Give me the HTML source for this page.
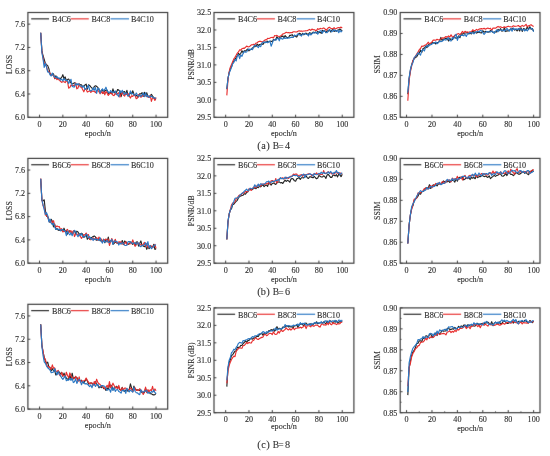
<!DOCTYPE html><html><head><meta charset="utf-8"><style>html,body{margin:0;padding:0;background:#fff}svg{display:block}text{stroke:#303030;stroke-width:0.12px;fill:#303030}.cap{stroke-width:0.1px}</style></head><body>
<svg width="550" height="456" viewBox="0 0 550 456" font-family='"Liberation Serif", "Times New Roman", serif'>
<defs><filter id="bl" x="0" y="0" width="550" height="456" filterUnits="userSpaceOnUse" color-interpolation-filters="sRGB"><feConvolveMatrix order="3" kernelMatrix="0.0049 0.0602 0.0049 0.0602 0.7396 0.0602 0.0049 0.0602 0.0049" edgeMode="duplicate"/></filter>
<clipPath id="c00"><rect x="27.9" y="12.5" width="139.80" height="104.8"/></clipPath><clipPath id="c01"><rect x="214.0" y="12.5" width="139.90" height="104.8"/></clipPath><clipPath id="c02"><rect x="400.2" y="12.5" width="139.80" height="104.8"/></clipPath><clipPath id="c10"><rect x="27.9" y="158.4" width="139.80" height="104.8"/></clipPath><clipPath id="c11"><rect x="214.0" y="158.4" width="139.90" height="104.8"/></clipPath><clipPath id="c12"><rect x="400.2" y="158.4" width="139.80" height="104.8"/></clipPath><clipPath id="c20"><rect x="27.9" y="304.3" width="139.80" height="104.8"/></clipPath><clipPath id="c21"><rect x="214.0" y="307.9" width="139.90" height="104.8"/></clipPath><clipPath id="c22"><rect x="400.2" y="307.9" width="139.80" height="104.8"/></clipPath></defs>
<g filter="url(#bl)"><rect width="550" height="456" fill="#fff"/>
<path d="M39.55,117.30v-2.6 M62.85,117.30v-2.6 M86.15,117.30v-2.6 M109.45,117.30v-2.6 M132.75,117.30v-2.6 M156.05,117.30v-2.6 M27.90,117.30h2.4 M27.90,94.01h2.4 M27.90,70.72h2.4 M27.90,47.43h2.4 M27.90,24.14h2.4" stroke="#404040" stroke-width="1" fill="none"/>
<rect x="27.9" y="12.5" width="139.80" height="104.8" fill="none" stroke="#404040" stroke-width="1.2"/>
<line x1="31.20" y1="18.85" x2="49.00" y2="18.85" stroke="#262626" stroke-width="1.15"/>
<line x1="70.60" y1="18.85" x2="88.80" y2="18.85" stroke="#e83030" stroke-width="1.15"/>
<line x1="110.50" y1="18.85" x2="129.00" y2="18.85" stroke="#2b78c4" stroke-width="1.15"/>
<path d="M225.66,117.30v-2.6 M248.97,117.30v-2.6 M272.29,117.30v-2.6 M295.61,117.30v-2.6 M318.92,117.30v-2.6 M342.24,117.30v-2.6 M214.00,117.30h2.4 M214.00,99.83h2.4 M214.00,82.37h2.4 M214.00,64.90h2.4 M214.00,47.43h2.4 M214.00,29.97h2.4 M214.00,12.50h2.4" stroke="#404040" stroke-width="1" fill="none"/>
<rect x="214.0" y="12.5" width="139.90" height="104.8" fill="none" stroke="#404040" stroke-width="1.2"/>
<line x1="217.30" y1="18.85" x2="235.10" y2="18.85" stroke="#262626" stroke-width="1.15"/>
<line x1="256.70" y1="18.85" x2="274.90" y2="18.85" stroke="#e83030" stroke-width="1.15"/>
<line x1="296.60" y1="18.85" x2="315.10" y2="18.85" stroke="#2b78c4" stroke-width="1.15"/>
<path d="M406.55,117.30v-2.6 M431.97,117.30v-2.6 M457.39,117.30v-2.6 M482.81,117.30v-2.6 M508.23,117.30v-2.6 M533.65,117.30v-2.6 M400.20,117.30h2.4 M400.20,96.34h2.4 M400.20,75.38h2.4 M400.20,54.42h2.4 M400.20,33.46h2.4 M400.20,12.50h2.4" stroke="#404040" stroke-width="1" fill="none"/>
<rect x="400.2" y="12.5" width="139.80" height="104.8" fill="none" stroke="#404040" stroke-width="1.2"/>
<line x1="403.50" y1="18.85" x2="421.30" y2="18.85" stroke="#262626" stroke-width="1.15"/>
<line x1="442.90" y1="18.85" x2="461.10" y2="18.85" stroke="#e83030" stroke-width="1.15"/>
<line x1="482.80" y1="18.85" x2="501.30" y2="18.85" stroke="#2b78c4" stroke-width="1.15"/>
<path d="M39.55,263.20v-2.6 M62.85,263.20v-2.6 M86.15,263.20v-2.6 M109.45,263.20v-2.6 M132.75,263.20v-2.6 M156.05,263.20v-2.6 M27.90,263.20h2.4 M27.90,239.91h2.4 M27.90,216.62h2.4 M27.90,193.33h2.4 M27.90,170.04h2.4" stroke="#404040" stroke-width="1" fill="none"/>
<rect x="27.9" y="158.4" width="139.80" height="104.8" fill="none" stroke="#404040" stroke-width="1.2"/>
<line x1="31.20" y1="164.75" x2="49.00" y2="164.75" stroke="#262626" stroke-width="1.15"/>
<line x1="70.60" y1="164.75" x2="88.80" y2="164.75" stroke="#e83030" stroke-width="1.15"/>
<line x1="110.50" y1="164.75" x2="129.00" y2="164.75" stroke="#2b78c4" stroke-width="1.15"/>
<path d="M225.66,263.20v-2.6 M248.97,263.20v-2.6 M272.29,263.20v-2.6 M295.61,263.20v-2.6 M318.92,263.20v-2.6 M342.24,263.20v-2.6 M214.00,263.20h2.4 M214.00,245.73h2.4 M214.00,228.27h2.4 M214.00,210.80h2.4 M214.00,193.33h2.4 M214.00,175.87h2.4 M214.00,158.40h2.4" stroke="#404040" stroke-width="1" fill="none"/>
<rect x="214.0" y="158.4" width="139.90" height="104.8" fill="none" stroke="#404040" stroke-width="1.2"/>
<line x1="217.30" y1="164.75" x2="235.10" y2="164.75" stroke="#262626" stroke-width="1.15"/>
<line x1="256.70" y1="164.75" x2="274.90" y2="164.75" stroke="#e83030" stroke-width="1.15"/>
<line x1="296.60" y1="164.75" x2="315.10" y2="164.75" stroke="#2b78c4" stroke-width="1.15"/>
<path d="M406.55,263.20v-2.6 M431.97,263.20v-2.6 M457.39,263.20v-2.6 M482.81,263.20v-2.6 M508.23,263.20v-2.6 M533.65,263.20v-2.6 M400.20,263.20h2.4 M400.20,242.24h2.4 M400.20,221.28h2.4 M400.20,200.32h2.4 M400.20,179.36h2.4 M400.20,158.40h2.4" stroke="#404040" stroke-width="1" fill="none"/>
<rect x="400.2" y="158.4" width="139.80" height="104.8" fill="none" stroke="#404040" stroke-width="1.2"/>
<line x1="403.50" y1="164.75" x2="421.30" y2="164.75" stroke="#262626" stroke-width="1.15"/>
<line x1="442.90" y1="164.75" x2="461.10" y2="164.75" stroke="#e83030" stroke-width="1.15"/>
<line x1="482.80" y1="164.75" x2="501.30" y2="164.75" stroke="#2b78c4" stroke-width="1.15"/>
<path d="M39.55,409.10v-2.6 M62.85,409.10v-2.6 M86.15,409.10v-2.6 M109.45,409.10v-2.6 M132.75,409.10v-2.6 M156.05,409.10v-2.6 M27.90,409.10h2.4 M27.90,385.81h2.4 M27.90,362.52h2.4 M27.90,339.23h2.4 M27.90,315.94h2.4" stroke="#404040" stroke-width="1" fill="none"/>
<rect x="27.9" y="304.3" width="139.80" height="104.8" fill="none" stroke="#404040" stroke-width="1.2"/>
<line x1="31.20" y1="310.65" x2="49.00" y2="310.65" stroke="#262626" stroke-width="1.15"/>
<line x1="70.60" y1="310.65" x2="88.80" y2="310.65" stroke="#e83030" stroke-width="1.15"/>
<line x1="110.50" y1="310.65" x2="129.00" y2="310.65" stroke="#2b78c4" stroke-width="1.15"/>
<path d="M225.66,412.70v-2.6 M248.97,412.70v-2.6 M272.29,412.70v-2.6 M295.61,412.70v-2.6 M318.92,412.70v-2.6 M342.24,412.70v-2.6 M214.00,412.70h2.4 M214.00,395.23h2.4 M214.00,377.77h2.4 M214.00,360.30h2.4 M214.00,342.83h2.4 M214.00,325.37h2.4 M214.00,307.90h2.4" stroke="#404040" stroke-width="1" fill="none"/>
<rect x="214.0" y="307.9" width="139.90" height="104.8" fill="none" stroke="#404040" stroke-width="1.2"/>
<line x1="217.30" y1="314.25" x2="235.10" y2="314.25" stroke="#262626" stroke-width="1.15"/>
<line x1="256.70" y1="314.25" x2="274.90" y2="314.25" stroke="#e83030" stroke-width="1.15"/>
<line x1="296.60" y1="314.25" x2="315.10" y2="314.25" stroke="#2b78c4" stroke-width="1.15"/>
<path d="M406.55,412.70v-2.6 M431.97,412.70v-2.6 M457.39,412.70v-2.6 M482.81,412.70v-2.6 M508.23,412.70v-2.6 M533.65,412.70v-2.6 M400.20,412.70h2.4 M400.20,391.74h2.4 M400.20,370.78h2.4 M400.20,349.82h2.4 M400.20,328.86h2.4 M400.20,307.90h2.4 M419.26,412.70v-1.3 M444.68,412.70v-1.3 M470.10,412.70v-1.3 M495.52,412.70v-1.3 M520.94,412.70v-1.3 M400.20,402.22h1.3 M400.20,381.26h1.3 M400.20,360.30h1.3 M400.20,339.34h1.3 M400.20,318.38h1.3" stroke="#404040" stroke-width="1" fill="none"/>
<rect x="400.2" y="307.9" width="139.80" height="104.8" fill="none" stroke="#404040" stroke-width="1.2"/>
<line x1="403.50" y1="314.25" x2="421.30" y2="314.25" stroke="#262626" stroke-width="1.15"/>
<line x1="442.90" y1="314.25" x2="461.10" y2="314.25" stroke="#e83030" stroke-width="1.15"/>
<line x1="482.80" y1="314.25" x2="501.30" y2="314.25" stroke="#2b78c4" stroke-width="1.15"/>
</g>
<g clip-path="url(#c00)" fill="none" stroke-width="1.15" stroke-linejoin="round">
<polyline points="40.71,32.83 41.88,50.63 43.04,55.76 44.21,59.54 45.38,63.52 46.54,64.64 47.70,65.59 48.87,68.60 50.03,73.70 51.20,74.98 52.36,74.14 53.53,73.82 54.69,78.73 55.86,75.76 57.02,78.38 58.19,78.26 59.35,78.66 60.52,78.47 61.68,77.39 62.85,74.72 64.02,79.02 65.18,76.90 66.34,80.91 67.51,79.58 68.67,79.04 69.84,81.02 71.00,83.02 72.17,83.86 73.33,83.55 74.50,82.82 75.66,83.64 76.83,84.40 77.99,84.71 79.16,83.85 80.32,84.75 81.49,84.82 82.66,86.90 83.82,86.29 84.98,84.99 86.15,84.11 87.31,89.29 88.48,84.82 89.64,85.48 90.81,86.82 91.97,88.07 93.14,89.33 94.30,86.48 95.47,85.85 96.63,86.37 97.80,87.45 98.96,89.35 100.13,92.31 101.29,90.43 102.46,89.49 103.62,93.10 104.79,90.30 105.95,90.39 107.12,90.06 108.28,93.48 109.45,92.71 110.61,92.44 111.78,93.83 112.94,88.84 114.11,92.85 115.27,91.50 116.44,92.62 117.60,89.50 118.77,90.13 119.93,91.50 121.10,96.62 122.26,92.84 123.43,91.90 124.59,91.50 125.76,94.49 126.92,90.38 128.09,96.02 129.25,95.02 130.42,92.38 131.58,94.03 132.75,90.72 133.91,93.99 135.08,95.52 136.24,95.18 137.41,96.52 138.57,96.94 139.74,93.70 140.90,93.88 142.07,92.73 143.23,96.40 144.40,92.23 145.56,95.86 146.73,92.79 147.89,96.48 149.06,97.18 150.22,95.64 151.39,94.44 152.55,96.14 153.72,97.61 154.88,99.10 156.05,99.37" stroke="#262626"/>
<polyline points="40.71,32.76 41.88,51.40 43.04,57.56 44.21,64.03 45.38,63.28 46.54,66.83 47.70,71.07 48.87,71.36 50.03,73.78 51.20,74.35 52.36,75.21 53.53,75.25 54.69,78.37 55.86,78.17 57.02,79.63 58.19,78.59 59.35,80.37 60.52,81.22 61.68,82.33 62.85,81.65 64.02,81.70 65.18,82.68 66.34,80.40 67.51,81.35 68.67,88.27 69.84,87.39 71.00,84.94 72.17,85.90 73.33,85.29 74.50,85.74 75.66,82.84 76.83,88.89 77.99,88.00 79.16,84.14 80.32,86.91 81.49,87.20 82.66,89.57 83.82,91.85 84.98,88.97 86.15,89.39 87.31,92.04 88.48,91.40 89.64,90.64 90.81,92.46 91.97,91.27 93.14,91.12 94.30,91.42 95.47,92.55 96.63,90.80 97.80,90.46 98.96,91.63 100.13,93.79 101.29,91.25 102.46,93.56 103.62,91.31 104.79,94.82 105.95,91.44 107.12,93.17 108.28,95.41 109.45,93.87 110.61,93.32 111.78,93.02 112.94,95.29 114.11,95.59 115.27,93.38 116.44,94.62 117.60,93.47 118.77,92.71 119.93,97.07 121.10,93.89 122.26,92.35 123.43,95.15 124.59,96.19 125.76,93.60 126.92,94.61 128.09,93.63 129.25,95.93 130.42,98.05 131.58,95.74 132.75,96.41 133.91,94.37 135.08,95.47 136.24,98.74 137.41,98.06 138.57,94.52 139.74,94.95 140.90,97.34 142.07,96.30 143.23,95.60 144.40,95.64 145.56,95.10 146.73,96.35 147.89,97.13 149.06,97.58 150.22,95.45 151.39,101.39 152.55,97.86 153.72,97.72 154.88,100.42 156.05,97.51" stroke="#e83030"/>
<polyline points="40.71,32.81 41.88,52.62 43.04,59.01 44.21,67.44 45.38,63.28 46.54,67.12 47.70,72.00 48.87,72.15 50.03,74.89 51.20,76.01 52.36,73.04 53.53,75.94 54.69,76.57 55.86,77.93 57.02,76.58 58.19,78.32 59.35,77.92 60.52,80.14 61.68,79.05 62.85,81.01 64.02,78.50 65.18,80.12 66.34,80.34 67.51,80.64 68.67,83.55 69.84,80.98 71.00,79.30 72.17,86.27 73.33,86.94 74.50,87.00 75.66,83.32 76.83,84.97 77.99,83.71 79.16,84.70 80.32,85.92 81.49,86.11 82.66,87.22 83.82,85.71 84.98,89.49 86.15,88.57 87.31,87.73 88.48,85.32 89.64,90.10 90.81,90.95 91.97,90.34 93.14,87.85 94.30,90.14 95.47,87.60 96.63,93.37 97.80,88.30 98.96,88.64 100.13,93.09 101.29,90.51 102.46,88.82 103.62,90.95 104.79,89.46 105.95,87.15 107.12,90.92 108.28,91.98 109.45,92.94 110.61,90.55 111.78,92.13 112.94,92.19 114.11,92.16 115.27,90.94 116.44,94.03 117.60,94.94 118.77,96.69 119.93,90.51 121.10,92.64 122.26,90.29 123.43,93.11 124.59,94.55 125.76,92.57 126.92,93.69 128.09,95.90 129.25,95.41 130.42,90.93 131.58,93.50 132.75,93.49 133.91,94.80 135.08,95.62 136.24,92.96 137.41,94.80 138.57,96.04 139.74,95.04 140.90,96.48 142.07,94.66 143.23,93.11 144.40,96.64 145.56,92.86 146.73,96.71 147.89,95.45 149.06,97.36 150.22,96.46 151.39,96.16 152.55,97.18 153.72,97.82 154.88,97.94 156.05,98.36" stroke="#2b78c4"/>
</g>
<g clip-path="url(#c01)" fill="none" stroke-width="1.15" stroke-linejoin="round">
<polyline points="226.82,89.22 227.99,78.30 229.16,72.59 230.32,68.54 231.49,67.16 232.65,62.88 233.82,61.10 234.98,59.27 236.15,57.56 237.32,55.72 238.48,53.29 239.65,54.84 240.81,53.21 241.98,50.66 243.15,52.84 244.31,50.70 245.48,51.13 246.64,50.00 247.81,49.06 248.97,50.88 250.14,49.54 251.31,49.38 252.47,47.74 253.64,47.67 254.80,45.11 255.97,46.64 257.14,44.01 258.30,45.58 259.47,44.51 260.63,44.25 261.80,43.81 262.96,44.43 264.13,42.62 265.30,42.15 266.46,41.88 267.63,41.12 268.79,42.09 269.96,41.22 271.13,41.19 272.29,41.81 273.46,39.51 274.62,40.11 275.79,39.25 276.95,36.72 278.12,38.31 279.29,38.19 280.45,37.05 281.62,36.66 282.78,35.90 283.95,37.88 285.12,35.48 286.28,37.09 287.45,37.85 288.61,37.41 289.78,35.26 290.94,35.37 292.11,34.67 293.28,36.55 294.44,35.83 295.61,36.47 296.77,37.03 297.94,35.02 299.11,33.35 300.27,33.64 301.44,35.26 302.60,33.27 303.77,34.77 304.94,33.78 306.10,33.11 307.27,34.07 308.43,34.32 309.60,32.68 310.76,33.26 311.93,33.42 313.10,32.11 314.26,32.72 315.43,31.97 316.59,33.06 317.76,31.29 318.92,32.71 320.09,32.04 321.26,33.31 322.42,30.32 323.59,31.19 324.75,30.72 325.92,32.63 327.09,30.76 328.25,31.15 329.42,29.52 330.58,32.01 331.75,30.13 332.91,29.43 334.08,31.52 335.25,30.25 336.41,31.34 337.58,30.24 338.74,29.93 339.91,28.97 341.08,30.02 342.24,30.79" stroke="#262626"/>
<polyline points="226.82,95.37 227.99,79.62 229.16,71.95 230.32,67.25 231.49,64.59 232.65,61.67 233.82,58.86 234.98,57.36 236.15,55.16 237.32,53.04 238.48,51.92 239.65,49.75 240.81,50.21 241.98,48.70 243.15,48.16 244.31,48.46 245.48,47.27 246.64,46.02 247.81,46.74 248.97,46.89 250.14,45.97 251.31,44.93 252.47,44.75 253.64,44.35 254.80,44.60 255.97,43.14 257.14,42.70 258.30,41.83 259.47,41.32 260.63,41.26 261.80,42.01 262.96,41.45 264.13,40.84 265.30,39.70 266.46,39.85 267.63,38.37 268.79,38.53 269.96,38.09 271.13,37.52 272.29,37.37 273.46,37.93 274.62,35.58 275.79,35.76 276.95,35.40 278.12,36.25 279.29,36.45 280.45,35.90 281.62,35.30 282.78,33.94 283.95,33.58 285.12,32.95 286.28,32.26 287.45,32.79 288.61,32.66 289.78,32.81 290.94,32.58 292.11,32.79 293.28,31.74 294.44,31.70 295.61,31.94 296.77,32.02 297.94,31.23 299.11,30.66 300.27,31.17 301.44,30.94 302.60,31.25 303.77,30.97 304.94,30.89 306.10,30.73 307.27,30.72 308.43,30.04 309.60,29.40 310.76,30.40 311.93,29.03 313.10,29.80 314.26,29.63 315.43,30.40 316.59,30.39 317.76,28.60 318.92,29.44 320.09,28.39 321.26,28.72 322.42,28.55 323.59,27.92 324.75,28.59 325.92,30.18 327.09,29.32 328.25,27.86 329.42,27.26 330.58,28.29 331.75,28.53 332.91,28.81 334.08,27.73 335.25,28.88 336.41,28.52 337.58,27.73 338.74,27.68 339.91,27.79 341.08,27.04 342.24,28.17" stroke="#e83030"/>
<polyline points="226.82,88.89 227.99,78.20 229.16,72.97 230.32,70.59 231.49,67.42 232.65,63.74 233.82,62.54 234.98,59.58 236.15,61.00 237.32,55.80 238.48,54.77 239.65,58.62 240.81,54.87 241.98,56.40 243.15,53.34 244.31,51.41 245.48,52.21 246.64,52.02 247.81,49.92 248.97,48.80 250.14,49.97 251.31,48.65 252.47,49.70 253.64,46.81 254.80,45.03 255.97,46.11 257.14,46.24 258.30,47.66 259.47,45.53 260.63,46.72 261.80,43.51 262.96,42.07 264.13,42.00 265.30,42.76 266.46,42.03 267.63,42.75 268.79,41.48 269.96,41.10 271.13,46.20 272.29,43.18 273.46,39.98 274.62,39.46 275.79,40.30 276.95,38.82 278.12,38.14 279.29,40.79 280.45,37.59 281.62,38.75 282.78,39.17 283.95,37.69 285.12,38.41 286.28,37.90 287.45,38.22 288.61,37.66 289.78,37.97 290.94,37.14 292.11,37.41 293.28,37.46 294.44,34.93 295.61,35.76 296.77,35.20 297.94,33.76 299.11,34.63 300.27,35.10 301.44,36.02 302.60,34.02 303.77,34.18 304.94,33.48 306.10,34.43 307.27,34.46 308.43,35.94 309.60,33.16 310.76,35.01 311.93,33.80 313.10,32.65 314.26,32.88 315.43,32.85 316.59,32.14 317.76,34.13 318.92,32.20 320.09,30.88 321.26,30.84 322.42,33.30 323.59,30.79 324.75,31.15 325.92,32.41 327.09,32.65 328.25,31.34 329.42,29.72 330.58,30.48 331.75,31.81 332.91,30.75 334.08,29.79 335.25,30.86 336.41,31.19 337.58,30.25 338.74,32.70 339.91,30.20 341.08,31.92 342.24,30.64" stroke="#2b78c4"/>
</g>
<g clip-path="url(#c02)" fill="none" stroke-width="1.15" stroke-linejoin="round">
<polyline points="407.83,94.18 409.10,78.82 410.37,70.49 411.64,64.93 412.91,60.85 414.18,58.82 415.45,57.38 416.72,56.78 417.99,54.40 419.26,52.99 420.53,49.96 421.81,52.35 423.08,48.33 424.35,48.26 425.62,46.15 426.89,47.67 428.16,45.07 429.43,43.85 430.70,44.01 431.97,42.69 433.24,42.88 434.51,42.70 435.79,43.98 437.06,42.57 438.33,42.33 439.60,41.31 440.87,37.45 442.14,40.55 443.41,39.02 444.68,38.90 445.95,38.36 447.22,38.22 448.49,40.96 449.77,38.45 451.04,39.99 452.31,39.68 453.58,36.61 454.85,37.43 456.12,38.18 457.39,37.86 458.66,35.90 459.93,37.74 461.20,33.66 462.47,34.12 463.75,33.48 465.02,32.95 466.29,33.04 467.56,32.36 468.83,33.92 470.10,33.10 471.37,33.94 472.64,30.81 473.91,32.39 475.18,31.85 476.45,33.10 477.73,32.48 479.00,32.26 480.27,32.78 481.54,32.94 482.81,30.69 484.08,32.27 485.35,31.36 486.62,31.57 487.89,32.11 489.16,31.93 490.43,30.53 491.71,31.31 492.98,32.32 494.25,31.99 495.52,31.60 496.79,31.89 498.06,29.31 499.33,30.58 500.60,28.66 501.87,31.19 503.14,30.82 504.41,27.70 505.69,31.56 506.96,30.74 508.23,30.92 509.50,30.08 510.77,29.46 512.04,28.67 513.31,28.47 514.58,30.09 515.85,29.34 517.12,30.95 518.39,28.85 519.67,31.03 520.94,27.69 522.21,31.41 523.48,28.44 524.75,28.96 526.02,30.17 527.29,26.82 528.56,29.56 529.83,26.65 531.10,29.12 532.37,28.63 533.65,31.16" stroke="#262626"/>
<polyline points="407.83,100.71 409.10,80.70 410.37,71.77 411.64,66.14 412.91,60.52 414.18,58.18 415.45,56.24 416.72,53.96 417.99,52.13 419.26,49.68 420.53,48.42 421.81,46.00 423.08,46.35 424.35,45.37 425.62,45.05 426.89,44.08 428.16,42.21 429.43,43.84 430.70,43.07 431.97,41.88 433.24,40.13 434.51,40.09 435.79,40.26 437.06,39.34 438.33,39.95 439.60,39.51 440.87,38.94 442.14,37.84 443.41,38.09 444.68,37.55 445.95,36.48 447.22,37.27 448.49,35.87 449.77,37.10 451.04,34.79 452.31,36.88 453.58,37.03 454.85,35.14 456.12,35.01 457.39,34.00 458.66,33.57 459.93,34.70 461.20,33.40 462.47,31.42 463.75,32.94 465.02,31.32 466.29,32.07 467.56,32.08 468.83,32.29 470.10,31.74 471.37,32.08 472.64,29.78 473.91,30.59 475.18,30.69 476.45,29.37 477.73,30.32 479.00,29.08 480.27,28.87 481.54,28.64 482.81,28.97 484.08,28.27 485.35,29.19 486.62,28.60 487.89,28.07 489.16,28.68 490.43,28.18 491.71,30.35 492.98,28.14 494.25,27.95 495.52,28.26 496.79,27.31 498.06,26.42 499.33,27.16 500.60,26.85 501.87,27.45 503.14,27.40 504.41,26.87 505.69,27.55 506.96,26.82 508.23,26.16 509.50,26.75 510.77,26.77 512.04,27.03 513.31,25.75 514.58,26.35 515.85,26.25 517.12,25.99 518.39,25.53 519.67,26.77 520.94,26.38 522.21,25.33 523.48,26.33 524.75,25.70 526.02,24.28 527.29,26.70 528.56,25.69 529.83,25.35 531.10,24.75 532.37,25.72 533.65,26.51" stroke="#e83030"/>
<polyline points="407.83,92.61 409.10,77.86 410.37,69.72 411.64,65.01 412.91,62.83 414.18,57.64 415.45,56.39 416.72,55.00 417.99,52.73 419.26,53.69 420.53,55.07 421.81,50.70 423.08,49.58 424.35,50.96 425.62,47.22 426.89,45.28 428.16,46.59 429.43,45.34 430.70,44.71 431.97,44.12 433.24,43.14 434.51,43.19 435.79,41.94 437.06,43.67 438.33,42.77 439.60,40.88 440.87,41.69 442.14,41.32 443.41,40.30 444.68,39.58 445.95,40.19 447.22,38.78 448.49,37.68 449.77,40.75 451.04,41.03 452.31,37.61 453.58,38.95 454.85,36.15 456.12,34.23 457.39,40.32 458.66,36.81 459.93,36.01 461.20,35.31 462.47,35.27 463.75,35.84 465.02,34.19 466.29,36.48 467.56,33.69 468.83,33.75 470.10,32.23 471.37,33.19 472.64,32.62 473.91,33.91 475.18,32.54 476.45,31.71 477.73,31.27 479.00,32.05 480.27,30.44 481.54,30.69 482.81,32.64 484.08,34.47 485.35,32.97 486.62,31.68 487.89,31.52 489.16,31.93 490.43,32.00 491.71,30.80 492.98,31.95 494.25,33.43 495.52,31.39 496.79,29.87 498.06,31.69 499.33,30.00 500.60,29.94 501.87,30.44 503.14,29.87 504.41,31.15 505.69,30.05 506.96,28.47 508.23,30.05 509.50,31.06 510.77,28.30 512.04,31.20 513.31,27.98 514.58,29.54 515.85,28.93 517.12,29.15 518.39,29.44 519.67,28.28 520.94,29.43 522.21,30.16 523.48,29.20 524.75,31.02 526.02,29.30 527.29,30.95 528.56,29.02 529.83,28.23 531.10,28.27 532.37,29.04 533.65,31.67" stroke="#2b78c4"/>
</g>
<g clip-path="url(#c10)" fill="none" stroke-width="1.15" stroke-linejoin="round">
<polyline points="40.71,178.89 41.88,200.49 43.04,200.90 44.21,199.79 45.38,210.53 46.54,216.20 47.70,216.55 48.87,219.35 50.03,222.49 51.20,219.37 52.36,221.29 53.53,226.87 54.69,224.14 55.86,229.35 57.02,228.71 58.19,230.14 59.35,230.32 60.52,229.44 61.68,230.65 62.85,230.74 64.02,228.22 65.18,231.36 66.34,230.40 67.51,234.11 68.67,231.37 69.84,230.84 71.00,232.19 72.17,233.78 73.33,231.24 74.50,230.86 75.66,233.44 76.83,231.21 77.99,231.98 79.16,234.05 80.32,234.19 81.49,233.32 82.66,234.22 83.82,237.36 84.98,236.08 86.15,234.16 87.31,239.30 88.48,237.45 89.64,239.27 90.81,237.67 91.97,237.20 93.14,236.60 94.30,236.09 95.47,236.90 96.63,240.27 97.80,239.43 98.96,238.68 100.13,240.66 101.29,240.88 102.46,241.77 103.62,239.19 104.79,242.75 105.95,239.36 107.12,241.93 108.28,237.11 109.45,242.27 110.61,241.02 111.78,239.88 112.94,244.19 114.11,243.44 115.27,241.81 116.44,242.82 117.60,243.16 118.77,243.38 119.93,242.62 121.10,243.90 122.26,240.47 123.43,244.57 124.59,241.04 125.76,241.69 126.92,243.12 128.09,244.53 129.25,243.83 130.42,242.00 131.58,242.41 132.75,244.35 133.91,242.90 135.08,245.12 136.24,242.02 137.41,241.83 138.57,246.06 139.74,243.18 140.90,240.94 142.07,245.52 143.23,245.95 144.40,246.75 145.56,245.37 146.73,249.32 147.89,246.73 149.06,248.67 150.22,247.09 151.39,246.51 152.55,247.25 153.72,244.35 154.88,249.47 156.05,248.47" stroke="#262626"/>
<polyline points="40.71,178.45 41.88,199.38 43.04,205.74 44.21,207.52 45.38,215.06 46.54,215.31 47.70,217.06 48.87,220.67 50.03,221.50 51.20,220.90 52.36,222.85 53.53,220.71 54.69,225.98 55.86,226.95 57.02,225.90 58.19,226.78 59.35,226.66 60.52,229.90 61.68,228.68 62.85,232.02 64.02,231.03 65.18,231.89 66.34,230.39 67.51,229.39 68.67,232.03 69.84,232.17 71.00,230.72 72.17,233.83 73.33,230.79 74.50,236.56 75.66,234.13 76.83,233.92 77.99,234.58 79.16,235.29 80.32,236.31 81.49,238.35 82.66,236.77 83.82,234.67 84.98,234.99 86.15,233.02 87.31,235.56 88.48,234.53 89.64,239.30 90.81,239.85 91.97,238.79 93.14,237.89 94.30,239.37 95.47,239.57 96.63,237.59 97.80,240.26 98.96,236.99 100.13,238.59 101.29,239.07 102.46,241.67 103.62,239.59 104.79,240.13 105.95,239.02 107.12,241.65 108.28,239.05 109.45,245.46 110.61,241.83 111.78,238.47 112.94,241.63 114.11,242.37 115.27,239.27 116.44,242.74 117.60,243.32 118.77,241.76 119.93,241.88 121.10,242.11 122.26,244.03 123.43,243.79 124.59,243.89 125.76,241.75 126.92,244.54 128.09,243.88 129.25,243.78 130.42,243.72 131.58,243.64 132.75,239.87 133.91,243.04 135.08,246.29 136.24,244.83 137.41,242.71 138.57,243.91 139.74,243.86 140.90,245.08 142.07,244.95 143.23,244.48 144.40,242.39 145.56,246.19 146.73,243.46 147.89,247.66 149.06,246.75 150.22,245.40 151.39,246.01 152.55,247.63 153.72,246.29 154.88,244.33 156.05,248.39" stroke="#e83030"/>
<polyline points="40.71,178.74 41.88,199.91 43.04,204.90 44.21,209.49 45.38,214.46 46.54,212.65 47.70,215.50 48.87,222.02 50.03,219.01 51.20,223.11 52.36,224.74 53.53,223.13 54.69,226.97 55.86,229.43 57.02,229.01 58.19,229.36 59.35,229.10 60.52,230.86 61.68,229.48 62.85,229.65 64.02,230.59 65.18,230.91 66.34,235.66 67.51,231.09 68.67,233.50 69.84,234.94 71.00,232.73 72.17,235.75 73.33,232.87 74.50,230.34 75.66,231.68 76.83,234.67 77.99,236.68 79.16,234.30 80.32,235.49 81.49,233.63 82.66,236.80 83.82,236.84 84.98,236.86 86.15,234.29 87.31,235.01 88.48,237.88 89.64,236.72 90.81,239.30 91.97,238.11 93.14,240.57 94.30,238.67 95.47,239.71 96.63,238.89 97.80,239.82 98.96,240.42 100.13,237.86 101.29,241.29 102.46,243.06 103.62,239.86 104.79,242.26 105.95,241.47 107.12,240.30 108.28,242.17 109.45,242.43 110.61,241.47 111.78,239.33 112.94,244.42 114.11,240.84 115.27,241.23 116.44,241.62 117.60,242.06 118.77,245.05 119.93,242.99 121.10,243.98 122.26,242.66 123.43,243.33 124.59,245.28 125.76,245.49 126.92,245.29 128.09,241.57 129.25,241.57 130.42,241.88 131.58,243.27 132.75,243.41 133.91,243.07 135.08,242.69 136.24,244.14 137.41,242.82 138.57,242.95 139.74,246.14 140.90,246.71 142.07,245.37 143.23,245.55 144.40,244.69 145.56,242.68 146.73,245.97 147.89,241.55 149.06,247.51 150.22,245.73 151.39,248.69 152.55,247.56 153.72,246.05 154.88,244.86 156.05,245.28" stroke="#2b78c4"/>
</g>
<g clip-path="url(#c11)" fill="none" stroke-width="1.15" stroke-linejoin="round">
<polyline points="226.82,239.54 227.99,221.76 229.16,214.07 230.32,210.13 231.49,208.72 232.65,204.70 233.82,204.14 234.98,202.54 236.15,201.33 237.32,200.31 238.48,197.87 239.65,196.50 240.81,196.07 241.98,195.53 243.15,195.28 244.31,193.59 245.48,194.21 246.64,192.42 247.81,191.80 248.97,189.90 250.14,189.37 251.31,189.41 252.47,189.55 253.64,188.12 254.80,187.82 255.97,188.69 257.14,187.06 258.30,187.61 259.47,186.30 260.63,186.81 261.80,185.51 262.96,184.86 264.13,186.62 265.30,185.38 266.46,185.03 267.63,186.33 268.79,182.91 269.96,183.76 271.13,185.05 272.29,183.45 273.46,182.99 274.62,183.79 275.79,184.39 276.95,182.58 278.12,182.25 279.29,181.83 280.45,182.92 281.62,182.50 282.78,183.51 283.95,181.62 285.12,180.23 286.28,181.39 287.45,180.35 288.61,180.98 289.78,182.23 290.94,179.12 292.11,178.49 293.28,179.08 294.44,180.81 295.61,181.16 296.77,178.76 297.94,178.35 299.11,177.58 300.27,179.43 301.44,177.70 302.60,177.73 303.77,177.81 304.94,176.56 306.10,175.79 307.27,177.80 308.43,178.52 309.60,176.84 310.76,176.78 311.93,177.38 313.10,177.79 314.26,176.24 315.43,177.75 316.59,178.72 317.76,177.97 318.92,175.43 320.09,176.15 321.26,176.99 322.42,177.04 323.59,175.82 324.75,176.47 325.92,178.42 327.09,175.00 328.25,174.35 329.42,175.92 330.58,177.44 331.75,177.37 332.91,175.27 334.08,175.25 335.25,175.94 336.41,174.69 337.58,176.88 338.74,174.33 339.91,174.87 341.08,176.64 342.24,174.17" stroke="#262626"/>
<polyline points="226.82,239.41 227.99,221.85 229.16,213.99 230.32,209.77 231.49,204.95 232.65,203.11 233.82,203.02 234.98,201.53 236.15,198.95 237.32,197.79 238.48,195.99 239.65,194.97 240.81,195.24 241.98,193.88 243.15,192.40 244.31,193.19 245.48,191.49 246.64,191.61 247.81,191.74 248.97,188.82 250.14,189.62 251.31,190.45 252.47,188.18 253.64,187.79 254.80,186.71 255.97,187.88 257.14,185.34 258.30,186.01 259.47,185.17 260.63,186.05 261.80,184.19 262.96,184.11 264.13,184.59 265.30,184.10 266.46,183.42 267.63,183.86 268.79,182.24 269.96,184.05 271.13,180.73 272.29,180.62 273.46,181.10 274.62,182.18 275.79,178.50 276.95,183.06 278.12,180.69 279.29,178.77 280.45,178.20 281.62,178.22 282.78,177.70 283.95,179.05 285.12,178.49 286.28,177.24 287.45,177.98 288.61,178.43 289.78,177.12 290.94,176.16 292.11,176.38 293.28,174.15 294.44,174.56 295.61,174.16 296.77,174.02 297.94,176.18 299.11,175.23 300.27,175.29 301.44,174.49 302.60,176.33 303.77,174.66 304.94,174.52 306.10,174.97 307.27,174.30 308.43,173.82 309.60,173.71 310.76,174.42 311.93,175.83 313.10,174.47 314.26,173.87 315.43,174.30 316.59,172.88 317.76,174.53 318.92,173.70 320.09,174.68 321.26,174.20 322.42,174.63 323.59,170.54 324.75,173.43 325.92,173.57 327.09,172.51 328.25,171.80 329.42,172.54 330.58,172.61 331.75,173.84 332.91,173.39 334.08,174.24 335.25,171.99 336.41,172.70 337.58,173.09 338.74,173.50 339.91,172.73 341.08,173.63 342.24,173.56" stroke="#e83030"/>
<polyline points="226.82,239.33 227.99,221.39 229.16,214.02 230.32,210.12 231.49,207.36 232.65,203.95 233.82,201.47 234.98,198.34 236.15,198.01 237.32,197.99 238.48,197.23 239.65,195.53 240.81,194.41 241.98,193.25 243.15,192.82 244.31,191.18 245.48,190.26 246.64,189.15 247.81,190.76 248.97,189.52 250.14,188.18 251.31,188.76 252.47,188.66 253.64,187.26 254.80,184.82 255.97,186.81 257.14,186.14 258.30,184.11 259.47,186.07 260.63,183.70 261.80,184.15 262.96,184.48 264.13,183.81 265.30,183.45 266.46,181.73 267.63,181.80 268.79,181.12 269.96,182.81 271.13,182.32 272.29,181.20 273.46,181.65 274.62,181.29 275.79,180.17 276.95,180.87 278.12,179.44 279.29,180.30 280.45,177.57 281.62,178.74 282.78,178.63 283.95,178.66 285.12,177.07 286.28,178.64 287.45,177.76 288.61,177.40 289.78,176.75 290.94,176.99 292.11,176.15 293.28,175.31 294.44,175.34 295.61,175.69 296.77,175.24 297.94,176.54 299.11,176.75 300.27,176.42 301.44,175.46 302.60,174.75 303.77,174.04 304.94,177.44 306.10,174.46 307.27,174.76 308.43,174.53 309.60,173.77 310.76,174.16 311.93,174.67 313.10,176.06 314.26,173.41 315.43,174.44 316.59,174.71 317.76,174.20 318.92,173.39 320.09,173.81 321.26,172.16 322.42,173.57 323.59,172.31 324.75,173.51 325.92,173.01 327.09,173.28 328.25,171.80 329.42,173.52 330.58,171.46 331.75,172.60 332.91,174.01 334.08,172.36 335.25,173.02 336.41,170.50 337.58,172.72 338.74,172.45 339.91,174.59 341.08,173.44 342.24,172.71" stroke="#2b78c4"/>
</g>
<g clip-path="url(#c12)" fill="none" stroke-width="1.15" stroke-linejoin="round">
<polyline points="407.83,243.56 409.10,225.21 410.37,215.19 411.64,208.37 412.91,205.75 414.18,200.62 415.45,199.05 416.72,197.84 417.99,196.17 419.26,193.26 420.53,194.25 421.81,191.76 423.08,191.49 424.35,190.52 425.62,188.16 426.89,187.67 428.16,188.37 429.43,184.67 430.70,188.51 431.97,186.79 433.24,184.82 434.51,185.69 435.79,184.58 437.06,185.96 438.33,183.91 439.60,183.83 440.87,184.42 442.14,183.33 443.41,180.94 444.68,181.85 445.95,181.89 447.22,181.81 448.49,180.82 449.77,182.44 451.04,181.04 452.31,180.32 453.58,180.37 454.85,182.14 456.12,178.54 457.39,181.17 458.66,177.77 459.93,177.15 461.20,178.01 462.47,177.63 463.75,179.89 465.02,179.02 466.29,178.06 467.56,178.56 468.83,177.57 470.10,179.55 471.37,177.50 472.64,178.13 473.91,177.53 475.18,178.72 476.45,175.45 477.73,177.64 479.00,176.63 480.27,176.68 481.54,175.66 482.81,175.67 484.08,176.67 485.35,176.00 486.62,176.77 487.89,177.51 489.16,175.76 490.43,178.61 491.71,177.34 492.98,176.44 494.25,175.34 495.52,176.39 496.79,175.40 498.06,175.14 499.33,173.71 500.60,173.97 501.87,176.03 503.14,176.20 504.41,175.28 505.69,173.69 506.96,175.58 508.23,171.37 509.50,173.04 510.77,174.36 512.04,174.30 513.31,175.62 514.58,174.50 515.85,172.78 517.12,172.95 518.39,174.09 519.67,174.19 520.94,173.11 522.21,172.59 523.48,171.61 524.75,173.32 526.02,172.44 527.29,173.86 528.56,174.76 529.83,171.23 531.10,172.35 532.37,170.08 533.65,171.59" stroke="#262626"/>
<polyline points="407.83,243.46 409.10,225.19 410.37,215.04 411.64,209.49 412.91,204.75 414.18,199.03 415.45,199.06 416.72,197.89 417.99,192.94 419.26,193.00 420.53,192.61 421.81,191.54 423.08,190.61 424.35,188.66 425.62,188.05 426.89,188.92 428.16,188.95 429.43,187.13 430.70,185.40 431.97,187.67 433.24,185.33 434.51,185.06 435.79,183.45 437.06,184.08 438.33,182.83 439.60,183.89 440.87,184.12 442.14,181.77 443.41,181.90 444.68,183.45 445.95,180.94 447.22,180.99 448.49,179.99 449.77,179.98 451.04,181.82 452.31,178.13 453.58,179.12 454.85,179.03 456.12,179.18 457.39,176.34 458.66,179.56 459.93,178.48 461.20,176.70 462.47,179.92 463.75,176.66 465.02,175.32 466.29,178.32 467.56,177.78 468.83,175.89 470.10,175.24 471.37,175.96 472.64,175.60 473.91,174.91 475.18,175.17 476.45,176.75 477.73,175.49 479.00,175.08 480.27,174.87 481.54,173.51 482.81,174.66 484.08,173.53 485.35,174.24 486.62,175.22 487.89,174.80 489.16,173.53 490.43,172.74 491.71,173.69 492.98,171.03 494.25,173.83 495.52,171.90 496.79,172.91 498.06,173.50 499.33,174.15 500.60,171.64 501.87,173.51 503.14,173.31 504.41,173.41 505.69,172.43 506.96,173.42 508.23,170.88 509.50,173.51 510.77,169.28 512.04,171.26 513.31,172.57 514.58,174.20 515.85,170.37 517.12,168.66 518.39,172.56 519.67,172.20 520.94,171.27 522.21,172.02 523.48,171.82 524.75,171.64 526.02,171.46 527.29,171.80 528.56,171.97 529.83,173.58 531.10,170.67 532.37,170.19 533.65,169.38" stroke="#e83030"/>
<polyline points="407.83,243.58 409.10,225.24 410.37,214.79 411.64,206.79 412.91,203.87 414.18,201.92 415.45,198.74 416.72,196.34 417.99,193.98 419.26,192.25 420.53,190.70 421.81,191.63 423.08,191.45 424.35,190.35 425.62,190.16 426.89,187.54 428.16,189.04 429.43,188.25 430.70,186.27 431.97,187.07 433.24,186.69 434.51,186.46 435.79,185.06 437.06,183.34 438.33,183.66 439.60,182.40 440.87,184.66 442.14,183.96 443.41,183.31 444.68,183.27 445.95,181.38 447.22,179.32 448.49,180.48 449.77,179.95 451.04,180.84 452.31,178.46 453.58,180.61 454.85,178.71 456.12,178.95 457.39,179.82 458.66,178.52 459.93,178.60 461.20,177.45 462.47,176.38 463.75,176.23 465.02,176.34 466.29,177.71 467.56,178.27 468.83,176.28 470.10,177.71 471.37,175.47 472.64,174.25 473.91,176.35 475.18,173.13 476.45,175.06 477.73,175.32 479.00,172.97 480.27,174.96 481.54,175.97 482.81,173.43 484.08,174.52 485.35,173.87 486.62,173.58 487.89,174.45 489.16,172.57 490.43,172.95 491.71,175.36 492.98,173.79 494.25,173.92 495.52,174.42 496.79,171.62 498.06,172.78 499.33,173.19 500.60,171.90 501.87,174.08 503.14,172.87 504.41,170.78 505.69,170.83 506.96,172.79 508.23,173.73 509.50,172.67 510.77,171.99 512.04,170.16 513.31,170.96 514.58,170.65 515.85,171.70 517.12,172.65 518.39,172.45 519.67,170.65 520.94,170.67 522.21,172.43 523.48,171.25 524.75,172.80 526.02,171.89 527.29,170.65 528.56,170.62 529.83,173.57 531.10,172.60 532.37,172.10 533.65,171.13" stroke="#2b78c4"/>
</g>
<g clip-path="url(#c20)" fill="none" stroke-width="1.15" stroke-linejoin="round">
<polyline points="40.71,324.21 41.88,345.04 43.04,352.24 44.21,357.18 45.38,361.37 46.54,363.32 47.70,362.06 48.87,367.18 50.03,367.41 51.20,370.83 52.36,368.70 53.53,370.75 54.69,370.65 55.86,375.02 57.02,374.00 58.19,371.07 59.35,372.26 60.52,373.85 61.68,372.40 62.85,376.36 64.02,373.13 65.18,375.85 66.34,378.27 67.51,379.15 68.67,379.53 69.84,375.18 71.00,379.04 72.17,373.20 73.33,378.98 74.50,377.42 75.66,377.84 76.83,377.29 77.99,380.35 79.16,380.05 80.32,380.89 81.49,380.19 82.66,382.18 83.82,383.08 84.98,380.87 86.15,379.07 87.31,380.75 88.48,384.12 89.64,383.28 90.81,383.05 91.97,383.14 93.14,384.00 94.30,384.71 95.47,381.71 96.63,384.36 97.80,385.01 98.96,387.91 100.13,386.56 101.29,387.60 102.46,385.95 103.62,388.64 104.79,387.88 105.95,390.52 107.12,387.81 108.28,389.67 109.45,385.43 110.61,385.05 111.78,386.02 112.94,389.90 114.11,387.92 115.27,387.94 116.44,386.26 117.60,387.33 118.77,387.41 119.93,389.69 121.10,390.26 122.26,387.32 123.43,390.73 124.59,391.32 125.76,390.00 126.92,389.74 128.09,391.31 129.25,389.37 130.42,383.88 131.58,387.87 132.75,391.42 133.91,386.14 135.08,389.49 136.24,389.81 137.41,389.94 138.57,390.07 139.74,390.46 140.90,391.14 142.07,392.64 143.23,392.43 144.40,392.62 145.56,388.44 146.73,392.08 147.89,391.99 149.06,391.72 150.22,393.75 151.39,393.72 152.55,394.61 153.72,394.86 154.88,394.58 156.05,393.42" stroke="#262626"/>
<polyline points="40.71,324.61 41.88,345.66 43.04,350.60 44.21,358.50 45.38,359.05 46.54,364.52 47.70,366.75 48.87,366.44 50.03,368.08 51.20,369.26 52.36,364.81 53.53,368.37 54.69,367.89 55.86,371.22 57.02,371.38 58.19,370.45 59.35,374.56 60.52,376.19 61.68,372.31 62.85,375.75 64.02,375.30 65.18,377.57 66.34,372.19 67.51,375.53 68.67,377.82 69.84,372.85 71.00,375.58 72.17,378.19 73.33,377.80 74.50,378.69 75.66,376.23 76.83,378.28 77.99,381.57 79.16,376.87 80.32,382.26 81.49,380.85 82.66,381.39 83.82,380.85 84.98,380.18 86.15,378.12 87.31,380.33 88.48,382.15 89.64,383.96 90.81,382.73 91.97,383.14 93.14,385.46 94.30,381.53 95.47,383.96 96.63,379.19 97.80,382.39 98.96,383.82 100.13,384.53 101.29,385.83 102.46,386.28 103.62,387.79 104.79,388.77 105.95,387.41 107.12,385.33 108.28,387.59 109.45,381.67 110.61,387.89 111.78,386.14 112.94,383.13 114.11,385.56 115.27,387.79 116.44,386.93 117.60,389.26 118.77,385.40 119.93,389.16 121.10,390.55 122.26,387.68 123.43,389.97 124.59,388.07 125.76,388.17 126.92,389.18 128.09,389.91 129.25,389.89 130.42,387.92 131.58,388.84 132.75,391.92 133.91,388.84 135.08,387.82 136.24,390.46 137.41,389.96 138.57,390.38 139.74,388.71 140.90,390.08 142.07,391.33 143.23,394.53 144.40,391.83 145.56,387.16 146.73,392.62 147.89,389.58 149.06,391.63 150.22,389.73 151.39,390.59 152.55,386.33 153.72,391.73 154.88,388.92 156.05,390.70" stroke="#e83030"/>
<polyline points="40.71,324.63 41.88,346.16 43.04,355.51 44.21,361.84 45.38,363.28 46.54,366.09 47.70,367.78 48.87,368.90 50.03,370.12 51.20,372.65 52.36,372.44 53.53,372.02 54.69,368.51 55.86,372.04 57.02,374.79 58.19,371.42 59.35,374.29 60.52,375.44 61.68,377.90 62.85,379.44 64.02,377.69 65.18,375.84 66.34,380.77 67.51,379.92 68.67,380.23 69.84,378.33 71.00,380.37 72.17,378.39 73.33,382.56 74.50,381.82 75.66,378.86 76.83,383.41 77.99,380.91 79.16,379.34 80.32,380.78 81.49,384.75 82.66,381.68 83.82,381.94 84.98,383.88 86.15,383.65 87.31,384.16 88.48,385.28 89.64,386.64 90.81,384.89 91.97,387.78 93.14,384.27 94.30,384.55 95.47,386.44 96.63,384.58 97.80,384.26 98.96,386.68 100.13,386.99 101.29,385.58 102.46,385.68 103.62,385.93 104.79,386.26 105.95,388.23 107.12,390.37 108.28,389.31 109.45,389.19 110.61,392.19 111.78,387.29 112.94,390.51 114.11,387.72 115.27,391.38 116.44,389.70 117.60,389.55 118.77,391.45 119.93,392.01 121.10,393.10 122.26,390.09 123.43,390.65 124.59,390.17 125.76,393.37 126.92,388.33 128.09,389.99 129.25,391.92 130.42,390.05 131.58,391.09 132.75,392.16 133.91,387.51 135.08,391.27 136.24,392.76 137.41,392.86 138.57,393.96 139.74,394.71 140.90,389.67 142.07,391.80 143.23,392.09 144.40,390.95 145.56,391.20 146.73,390.43 147.89,393.38 149.06,392.44 150.22,392.92 151.39,391.60 152.55,392.24 153.72,390.11 154.88,392.53 156.05,393.48" stroke="#2b78c4"/>
</g>
<g clip-path="url(#c21)" fill="none" stroke-width="1.15" stroke-linejoin="round">
<polyline points="226.82,386.66 227.99,368.31 229.16,362.58 230.32,359.80 231.49,355.54 232.65,354.73 233.82,352.91 234.98,351.18 236.15,351.05 237.32,347.36 238.48,347.36 239.65,347.30 240.81,345.30 241.98,345.53 243.15,343.52 244.31,342.46 245.48,340.70 246.64,342.82 247.81,340.60 248.97,340.52 250.14,338.58 251.31,338.75 252.47,339.16 253.64,338.03 254.80,338.05 255.97,337.06 257.14,336.17 258.30,336.58 259.47,334.43 260.63,333.97 261.80,333.23 262.96,335.29 264.13,333.29 265.30,334.03 266.46,333.15 267.63,332.69 268.79,330.68 269.96,330.98 271.13,329.55 272.29,330.60 273.46,329.10 274.62,331.27 275.79,329.75 276.95,326.65 278.12,328.90 279.29,328.31 280.45,328.96 281.62,329.13 282.78,327.10 283.95,326.98 285.12,327.25 286.28,325.80 287.45,326.01 288.61,327.03 289.78,326.43 290.94,326.90 292.11,326.64 293.28,327.72 294.44,325.45 295.61,325.78 296.77,324.67 297.94,327.45 299.11,324.21 300.27,323.97 301.44,324.08 302.60,324.70 303.77,325.49 304.94,323.72 306.10,323.00 307.27,324.50 308.43,324.41 309.60,324.81 310.76,323.77 311.93,324.47 313.10,324.84 314.26,323.04 315.43,323.15 316.59,321.78 317.76,323.86 318.92,323.18 320.09,322.74 321.26,322.69 322.42,323.09 323.59,321.87 324.75,322.91 325.92,323.83 327.09,320.96 328.25,323.05 329.42,321.99 330.58,320.80 331.75,321.90 332.91,322.53 334.08,321.61 335.25,322.24 336.41,320.85 337.58,322.92 338.74,322.13 339.91,321.67 341.08,321.85 342.24,321.28" stroke="#262626"/>
<polyline points="226.82,383.27 227.99,370.60 229.16,365.55 230.32,362.15 231.49,359.53 232.65,357.62 233.82,356.14 234.98,356.61 236.15,351.39 237.32,349.82 238.48,348.52 239.65,347.75 240.81,348.07 241.98,348.28 243.15,345.54 244.31,345.43 245.48,344.18 246.64,342.51 247.81,343.62 248.97,342.25 250.14,342.97 251.31,343.05 252.47,340.72 253.64,340.44 254.80,338.19 255.97,337.82 257.14,339.14 258.30,339.53 259.47,338.48 260.63,337.90 261.80,337.40 262.96,337.09 264.13,334.97 265.30,333.64 266.46,335.77 267.63,335.19 268.79,333.76 269.96,333.19 271.13,333.52 272.29,334.52 273.46,331.79 274.62,334.01 275.79,334.40 276.95,333.91 278.12,331.40 279.29,333.07 280.45,330.87 281.62,330.52 282.78,331.48 283.95,330.41 285.12,329.44 286.28,327.96 287.45,329.45 288.61,329.95 289.78,328.61 290.94,330.07 292.11,328.80 293.28,328.22 294.44,329.76 295.61,328.22 296.77,328.22 297.94,327.98 299.11,327.91 300.27,327.11 301.44,328.06 302.60,327.14 303.77,326.48 304.94,325.10 306.10,328.61 307.27,325.70 308.43,325.77 309.60,325.96 310.76,326.90 311.93,324.90 313.10,326.16 314.26,326.15 315.43,325.10 316.59,325.04 317.76,325.45 318.92,326.61 320.09,327.09 321.26,324.57 322.42,323.59 323.59,325.01 324.75,324.79 325.92,325.20 327.09,322.74 328.25,324.68 329.42,322.13 330.58,324.18 331.75,324.81 332.91,322.60 334.08,323.73 335.25,323.62 336.41,324.58 337.58,323.65 338.74,323.84 339.91,323.62 341.08,322.06 342.24,322.37" stroke="#e83030"/>
<polyline points="226.82,380.25 227.99,367.01 229.16,360.21 230.32,357.54 231.49,352.72 232.65,351.62 233.82,349.18 234.98,349.68 236.15,347.41 237.32,345.81 238.48,343.37 239.65,342.40 240.81,342.79 241.98,343.23 243.15,340.47 244.31,340.79 245.48,340.11 246.64,339.77 247.81,339.04 248.97,338.59 250.14,339.19 251.31,337.73 252.47,336.58 253.64,337.25 254.80,335.89 255.97,335.74 257.14,335.54 258.30,334.40 259.47,333.77 260.63,333.48 261.80,333.09 262.96,331.63 264.13,332.06 265.30,333.64 266.46,331.67 267.63,332.10 268.79,331.83 269.96,330.85 271.13,330.79 272.29,331.05 273.46,330.47 274.62,329.20 275.79,327.98 276.95,330.24 278.12,329.06 279.29,328.91 280.45,328.92 281.62,328.66 282.78,327.87 283.95,327.52 285.12,324.57 286.28,326.46 287.45,325.93 288.61,325.55 289.78,325.87 290.94,325.96 292.11,326.13 293.28,325.14 294.44,325.47 295.61,325.47 296.77,324.61 297.94,324.10 299.11,325.89 300.27,322.66 301.44,324.28 302.60,323.40 303.77,323.64 304.94,323.15 306.10,325.17 307.27,324.86 308.43,324.58 309.60,323.58 310.76,325.42 311.93,323.44 313.10,324.35 314.26,322.79 315.43,322.43 316.59,323.31 317.76,322.65 318.92,323.09 320.09,323.13 321.26,321.65 322.42,323.26 323.59,323.04 324.75,321.13 325.92,320.86 327.09,321.77 328.25,322.53 329.42,320.28 330.58,321.56 331.75,321.28 332.91,320.72 334.08,321.17 335.25,320.34 336.41,321.80 337.58,321.91 338.74,320.03 339.91,320.24 341.08,321.47 342.24,319.84" stroke="#2b78c4"/>
</g>
<g clip-path="url(#c22)" fill="none" stroke-width="1.15" stroke-linejoin="round">
<polyline points="407.83,395.13 409.10,368.06 410.37,361.16 411.64,355.44 412.91,352.01 414.18,350.41 415.45,347.58 416.72,343.53 417.99,343.36 419.26,340.74 420.53,340.81 421.81,341.51 423.08,338.11 424.35,338.31 425.62,336.06 426.89,335.76 428.16,337.47 429.43,334.62 430.70,333.31 431.97,337.66 433.24,335.66 434.51,334.36 435.79,333.01 437.06,335.58 438.33,332.33 439.60,334.32 440.87,332.53 442.14,330.18 443.41,331.26 444.68,330.95 445.95,330.85 447.22,328.59 448.49,328.03 449.77,329.42 451.04,329.42 452.31,328.79 453.58,329.13 454.85,327.36 456.12,328.82 457.39,328.14 458.66,326.29 459.93,327.59 461.20,325.93 462.47,326.91 463.75,325.12 465.02,325.01 466.29,327.68 467.56,324.88 468.83,325.39 470.10,325.96 471.37,326.17 472.64,325.27 473.91,326.11 475.18,325.97 476.45,324.09 477.73,323.31 479.00,325.45 480.27,324.22 481.54,323.49 482.81,323.36 484.08,323.90 485.35,323.05 486.62,322.86 487.89,322.07 489.16,323.36 490.43,324.72 491.71,321.67 492.98,325.67 494.25,323.13 495.52,322.12 496.79,323.88 498.06,323.52 499.33,321.90 500.60,324.07 501.87,323.35 503.14,321.49 504.41,320.87 505.69,322.21 506.96,323.43 508.23,323.35 509.50,322.34 510.77,322.24 512.04,321.21 513.31,323.11 514.58,320.88 515.85,320.44 517.12,322.93 518.39,321.32 519.67,321.79 520.94,322.06 522.21,321.12 523.48,322.40 524.75,320.34 526.02,320.95 527.29,321.94 528.56,323.00 529.83,320.52 531.10,321.46 532.37,322.62 533.65,321.21" stroke="#262626"/>
<polyline points="407.83,386.30 409.10,367.68 410.37,363.54 411.64,356.94 412.91,353.52 414.18,351.54 415.45,348.67 416.72,347.82 417.99,345.89 419.26,345.36 420.53,342.40 421.81,342.15 423.08,342.05 424.35,340.66 425.62,337.91 426.89,339.83 428.16,336.48 429.43,338.33 430.70,337.02 431.97,336.93 433.24,337.51 434.51,336.04 435.79,334.59 437.06,334.98 438.33,332.58 439.60,334.54 440.87,333.88 442.14,333.71 443.41,333.34 444.68,333.69 445.95,334.90 447.22,332.00 448.49,331.76 449.77,330.70 451.04,332.61 452.31,331.25 453.58,332.18 454.85,330.20 456.12,331.57 457.39,329.45 458.66,330.10 459.93,328.33 461.20,328.42 462.47,328.22 463.75,326.92 465.02,325.42 466.29,328.57 467.56,327.26 468.83,326.79 470.10,328.71 471.37,326.34 472.64,326.24 473.91,324.27 475.18,324.68 476.45,324.90 477.73,326.64 479.00,325.34 480.27,327.68 481.54,324.94 482.81,323.76 484.08,325.38 485.35,324.28 486.62,325.15 487.89,326.16 489.16,323.76 490.43,324.55 491.71,324.99 492.98,324.44 494.25,325.37 495.52,325.06 496.79,323.95 498.06,324.33 499.33,325.18 500.60,324.90 501.87,324.04 503.14,323.18 504.41,324.28 505.69,323.42 506.96,322.48 508.23,322.31 509.50,322.65 510.77,323.24 512.04,322.58 513.31,321.08 514.58,322.30 515.85,322.72 517.12,322.19 518.39,323.78 519.67,322.83 520.94,322.17 522.21,323.98 523.48,322.36 524.75,322.97 526.02,322.85 527.29,323.27 528.56,322.92 529.83,321.41 531.10,321.60 532.37,321.92 533.65,321.38" stroke="#e83030"/>
<polyline points="407.83,391.92 409.10,362.86 410.37,356.54 411.64,352.03 412.91,348.24 414.18,346.54 415.45,345.22 416.72,343.64 417.99,339.62 419.26,339.88 420.53,339.11 421.81,338.63 423.08,336.61 424.35,338.35 425.62,336.59 426.89,337.31 428.16,337.56 429.43,333.75 430.70,333.60 431.97,333.84 433.24,335.95 434.51,333.05 435.79,334.84 437.06,331.04 438.33,333.50 439.60,329.82 440.87,330.75 442.14,330.92 443.41,330.10 444.68,329.40 445.95,329.30 447.22,330.81 448.49,326.83 449.77,327.29 451.04,326.71 452.31,326.51 453.58,327.82 454.85,328.57 456.12,329.22 457.39,327.50 458.66,327.52 459.93,327.33 461.20,326.72 462.47,327.25 463.75,327.03 465.02,325.40 466.29,325.38 467.56,326.92 468.83,324.69 470.10,325.02 471.37,324.19 472.64,325.27 473.91,322.68 475.18,324.50 476.45,323.29 477.73,324.40 479.00,323.83 480.27,323.84 481.54,324.17 482.81,325.12 484.08,322.43 485.35,322.38 486.62,321.39 487.89,323.44 489.16,324.71 490.43,323.78 491.71,324.20 492.98,325.04 494.25,323.86 495.52,321.99 496.79,323.35 498.06,321.99 499.33,323.28 500.60,321.36 501.87,319.74 503.14,321.49 504.41,320.18 505.69,321.70 506.96,320.46 508.23,321.35 509.50,321.84 510.77,322.32 512.04,320.54 513.31,319.30 514.58,321.60 515.85,319.47 517.12,322.68 518.39,323.90 519.67,321.10 520.94,321.21 522.21,320.34 523.48,321.46 524.75,321.53 526.02,319.63 527.29,321.48 528.56,322.55 529.83,321.74 531.10,322.51 532.37,320.85 533.65,320.59" stroke="#2b78c4"/>
</g>
<text x="39.55" y="126.70" font-size="8.1" text-anchor="middle">0</text>
<text x="62.85" y="126.70" font-size="8.1" text-anchor="middle">20</text>
<text x="86.15" y="126.70" font-size="8.1" text-anchor="middle">40</text>
<text x="109.45" y="126.70" font-size="8.1" text-anchor="middle">60</text>
<text x="132.75" y="126.70" font-size="8.1" text-anchor="middle">80</text>
<text x="156.05" y="126.70" font-size="8.1" text-anchor="middle">100</text>
<text x="25.10" y="120.10" font-size="8.1" text-anchor="end">6.0</text>
<text x="25.10" y="96.81" font-size="8.1" text-anchor="end">6.4</text>
<text x="25.10" y="73.52" font-size="8.1" text-anchor="end">6.8</text>
<text x="25.10" y="50.23" font-size="8.1" text-anchor="end">7.2</text>
<text x="25.10" y="26.94" font-size="8.1" text-anchor="end">7.6</text>
<text x="97.80" y="135.70" font-size="8.2" text-anchor="middle">epoch/n</text>
<text transform="translate(11.90,64.40) rotate(-90)" font-size="7.8" text-anchor="middle">LOSS</text>
<text x="52.00" y="22.20" font-size="8.1">B4C6</text>
<text x="91.40" y="22.20" font-size="8.1">B4C8</text>
<text x="130.90" y="22.20" font-size="8.1">B4C10</text>
<text x="225.66" y="126.70" font-size="8.1" text-anchor="middle">0</text>
<text x="248.97" y="126.70" font-size="8.1" text-anchor="middle">20</text>
<text x="272.29" y="126.70" font-size="8.1" text-anchor="middle">40</text>
<text x="295.61" y="126.70" font-size="8.1" text-anchor="middle">60</text>
<text x="318.92" y="126.70" font-size="8.1" text-anchor="middle">80</text>
<text x="342.24" y="126.70" font-size="8.1" text-anchor="middle">100</text>
<text x="211.20" y="120.10" font-size="8.1" text-anchor="end">29.5</text>
<text x="211.20" y="102.63" font-size="8.1" text-anchor="end">30.0</text>
<text x="211.20" y="85.17" font-size="8.1" text-anchor="end">30.5</text>
<text x="211.20" y="67.70" font-size="8.1" text-anchor="end">31.0</text>
<text x="211.20" y="50.23" font-size="8.1" text-anchor="end">31.5</text>
<text x="211.20" y="32.77" font-size="8.1" text-anchor="end">32.0</text>
<text x="211.20" y="15.30" font-size="8.1" text-anchor="end">32.5</text>
<text x="283.95" y="135.70" font-size="8.2" text-anchor="middle">epoch/n</text>
<text transform="translate(193.70,64.40) rotate(-90)" font-size="7.8" text-anchor="middle">PSNR/dB</text>
<text x="238.10" y="22.20" font-size="8.1">B4C6</text>
<text x="277.50" y="22.20" font-size="8.1">B4C8</text>
<text x="317.00" y="22.20" font-size="8.1">B4C10</text>
<text x="406.55" y="126.70" font-size="8.1" text-anchor="middle">0</text>
<text x="431.97" y="126.70" font-size="8.1" text-anchor="middle">20</text>
<text x="457.39" y="126.70" font-size="8.1" text-anchor="middle">40</text>
<text x="482.81" y="126.70" font-size="8.1" text-anchor="middle">60</text>
<text x="508.23" y="126.70" font-size="8.1" text-anchor="middle">80</text>
<text x="533.65" y="126.70" font-size="8.1" text-anchor="middle">100</text>
<text x="397.40" y="120.10" font-size="8.1" text-anchor="end">0.85</text>
<text x="397.40" y="99.14" font-size="8.1" text-anchor="end">0.86</text>
<text x="397.40" y="78.18" font-size="8.1" text-anchor="end">0.87</text>
<text x="397.40" y="57.22" font-size="8.1" text-anchor="end">0.88</text>
<text x="397.40" y="36.26" font-size="8.1" text-anchor="end">0.89</text>
<text x="397.40" y="15.30" font-size="8.1" text-anchor="end">0.90</text>
<text x="470.10" y="135.70" font-size="8.2" text-anchor="middle">epoch/n</text>
<text transform="translate(380.10,64.40) rotate(-90)" font-size="7.8" text-anchor="middle">SSIM</text>
<text x="424.30" y="22.20" font-size="8.1">B4C6</text>
<text x="463.70" y="22.20" font-size="8.1">B4C8</text>
<text x="503.20" y="22.20" font-size="8.1">B4C10</text>
<text class="cap" y="148.6" text-anchor="middle"><tspan x="259.1" y="148.6" font-size="10.6">(</tspan><tspan x="263.4" y="148.6" font-size="10.2">a</tspan><tspan x="268.0" y="148.6" font-size="10.6">)</tspan><tspan x="271.6" y="148.6" font-size="10.2"> </tspan><tspan x="275.8" y="148.6" font-size="9.4">B</tspan><tspan x="280.8" y="149.5" font-size="10.0">=</tspan><tspan x="287.5" y="148.6" font-size="10.2">4</tspan></text>
<text x="39.55" y="272.60" font-size="8.1" text-anchor="middle">0</text>
<text x="62.85" y="272.60" font-size="8.1" text-anchor="middle">20</text>
<text x="86.15" y="272.60" font-size="8.1" text-anchor="middle">40</text>
<text x="109.45" y="272.60" font-size="8.1" text-anchor="middle">60</text>
<text x="132.75" y="272.60" font-size="8.1" text-anchor="middle">80</text>
<text x="156.05" y="272.60" font-size="8.1" text-anchor="middle">100</text>
<text x="25.10" y="266.00" font-size="8.1" text-anchor="end">6.0</text>
<text x="25.10" y="242.71" font-size="8.1" text-anchor="end">6.4</text>
<text x="25.10" y="219.42" font-size="8.1" text-anchor="end">6.8</text>
<text x="25.10" y="196.13" font-size="8.1" text-anchor="end">7.2</text>
<text x="25.10" y="172.84" font-size="8.1" text-anchor="end">7.6</text>
<text x="97.80" y="281.60" font-size="8.2" text-anchor="middle">epoch/n</text>
<text transform="translate(11.90,210.80) rotate(-90)" font-size="7.8" text-anchor="middle">LOSS</text>
<text x="52.00" y="168.10" font-size="8.1">B6C6</text>
<text x="91.40" y="168.10" font-size="8.1">B6C8</text>
<text x="130.90" y="168.10" font-size="8.1">B6C10</text>
<text x="225.66" y="272.60" font-size="8.1" text-anchor="middle">0</text>
<text x="248.97" y="272.60" font-size="8.1" text-anchor="middle">20</text>
<text x="272.29" y="272.60" font-size="8.1" text-anchor="middle">40</text>
<text x="295.61" y="272.60" font-size="8.1" text-anchor="middle">60</text>
<text x="318.92" y="272.60" font-size="8.1" text-anchor="middle">80</text>
<text x="342.24" y="272.60" font-size="8.1" text-anchor="middle">100</text>
<text x="211.20" y="266.00" font-size="8.1" text-anchor="end">29.5</text>
<text x="211.20" y="248.53" font-size="8.1" text-anchor="end">30.0</text>
<text x="211.20" y="231.07" font-size="8.1" text-anchor="end">30.5</text>
<text x="211.20" y="213.60" font-size="8.1" text-anchor="end">31.0</text>
<text x="211.20" y="196.13" font-size="8.1" text-anchor="end">31.5</text>
<text x="211.20" y="178.67" font-size="8.1" text-anchor="end">32.0</text>
<text x="211.20" y="161.20" font-size="8.1" text-anchor="end">32.5</text>
<text x="283.95" y="281.60" font-size="8.2" text-anchor="middle">epoch/n</text>
<text transform="translate(193.70,210.80) rotate(-90)" font-size="7.8" text-anchor="middle">PSNR/dB</text>
<text x="238.10" y="168.10" font-size="8.1">B6C6</text>
<text x="277.50" y="168.10" font-size="8.1">B6C8</text>
<text x="317.00" y="168.10" font-size="8.1">B6C10</text>
<text x="406.55" y="272.60" font-size="8.1" text-anchor="middle">0</text>
<text x="431.97" y="272.60" font-size="8.1" text-anchor="middle">20</text>
<text x="457.39" y="272.60" font-size="8.1" text-anchor="middle">40</text>
<text x="482.81" y="272.60" font-size="8.1" text-anchor="middle">60</text>
<text x="508.23" y="272.60" font-size="8.1" text-anchor="middle">80</text>
<text x="533.65" y="272.60" font-size="8.1" text-anchor="middle">100</text>
<text x="397.40" y="266.00" font-size="8.1" text-anchor="end">0.85</text>
<text x="397.40" y="245.04" font-size="8.1" text-anchor="end">0.86</text>
<text x="397.40" y="224.08" font-size="8.1" text-anchor="end">0.87</text>
<text x="397.40" y="203.12" font-size="8.1" text-anchor="end">0.88</text>
<text x="397.40" y="182.16" font-size="8.1" text-anchor="end">0.89</text>
<text x="397.40" y="161.20" font-size="8.1" text-anchor="end">0.90</text>
<text x="470.10" y="281.60" font-size="8.2" text-anchor="middle">epoch/n</text>
<text transform="translate(380.10,210.80) rotate(-90)" font-size="7.8" text-anchor="middle">SSIM</text>
<text x="424.30" y="168.10" font-size="8.1">B6C6</text>
<text x="463.70" y="168.10" font-size="8.1">B6C8</text>
<text x="503.20" y="168.10" font-size="8.1">B6C10</text>
<text class="cap" y="294.6" text-anchor="middle"><tspan x="259.1" y="294.6" font-size="10.6">(</tspan><tspan x="263.4" y="294.6" font-size="10.2">b</tspan><tspan x="268.0" y="294.6" font-size="10.6">)</tspan><tspan x="271.6" y="294.6" font-size="10.2"> </tspan><tspan x="275.8" y="294.6" font-size="9.4">B</tspan><tspan x="280.8" y="295.5" font-size="10.0">=</tspan><tspan x="287.5" y="294.6" font-size="10.2">6</tspan></text>
<text x="39.55" y="418.50" font-size="8.1" text-anchor="middle">0</text>
<text x="62.85" y="418.50" font-size="8.1" text-anchor="middle">20</text>
<text x="86.15" y="418.50" font-size="8.1" text-anchor="middle">40</text>
<text x="109.45" y="418.50" font-size="8.1" text-anchor="middle">60</text>
<text x="132.75" y="418.50" font-size="8.1" text-anchor="middle">80</text>
<text x="156.05" y="418.50" font-size="8.1" text-anchor="middle">100</text>
<text x="25.10" y="411.90" font-size="8.1" text-anchor="end">6.0</text>
<text x="25.10" y="388.61" font-size="8.1" text-anchor="end">6.4</text>
<text x="25.10" y="365.32" font-size="8.1" text-anchor="end">6.8</text>
<text x="25.10" y="342.03" font-size="8.1" text-anchor="end">7.2</text>
<text x="25.10" y="318.74" font-size="8.1" text-anchor="end">7.6</text>
<text x="97.80" y="427.50" font-size="8.2" text-anchor="middle">epoch/n</text>
<text transform="translate(11.90,356.70) rotate(-90)" font-size="7.8" text-anchor="middle">LOSS</text>
<text x="52.00" y="314.00" font-size="8.1">B8C6</text>
<text x="91.40" y="314.00" font-size="8.1">B8C8</text>
<text x="130.90" y="314.00" font-size="8.1">B8C10</text>
<text x="225.66" y="422.10" font-size="8.1" text-anchor="middle">0</text>
<text x="248.97" y="422.10" font-size="8.1" text-anchor="middle">20</text>
<text x="272.29" y="422.10" font-size="8.1" text-anchor="middle">40</text>
<text x="295.61" y="422.10" font-size="8.1" text-anchor="middle">60</text>
<text x="318.92" y="422.10" font-size="8.1" text-anchor="middle">80</text>
<text x="342.24" y="422.10" font-size="8.1" text-anchor="middle">100</text>
<text x="211.20" y="415.50" font-size="8.1" text-anchor="end">29.5</text>
<text x="211.20" y="398.03" font-size="8.1" text-anchor="end">30.0</text>
<text x="211.20" y="380.57" font-size="8.1" text-anchor="end">30.5</text>
<text x="211.20" y="363.10" font-size="8.1" text-anchor="end">31.0</text>
<text x="211.20" y="345.63" font-size="8.1" text-anchor="end">31.5</text>
<text x="211.20" y="328.17" font-size="8.1" text-anchor="end">32.0</text>
<text x="211.20" y="310.70" font-size="8.1" text-anchor="end">32.5</text>
<text x="283.95" y="429.10" font-size="8.2" text-anchor="middle">epoch/n</text>
<text transform="translate(193.70,360.30) rotate(-90)" font-size="7.8" text-anchor="middle">PSNR (dB)</text>
<text x="238.10" y="317.60" font-size="8.1">B8C6</text>
<text x="277.50" y="317.60" font-size="8.1">B8C8</text>
<text x="317.00" y="317.60" font-size="8.1">B8C10</text>
<text x="406.55" y="422.10" font-size="8.1" text-anchor="middle">0</text>
<text x="431.97" y="422.10" font-size="8.1" text-anchor="middle">20</text>
<text x="457.39" y="422.10" font-size="8.1" text-anchor="middle">40</text>
<text x="482.81" y="422.10" font-size="8.1" text-anchor="middle">60</text>
<text x="508.23" y="422.10" font-size="8.1" text-anchor="middle">80</text>
<text x="533.65" y="422.10" font-size="8.1" text-anchor="middle">100</text>
<text x="397.40" y="415.50" font-size="8.1" text-anchor="end">0.85</text>
<text x="397.40" y="394.54" font-size="8.1" text-anchor="end">0.86</text>
<text x="397.40" y="373.58" font-size="8.1" text-anchor="end">0.87</text>
<text x="397.40" y="352.62" font-size="8.1" text-anchor="end">0.88</text>
<text x="397.40" y="331.66" font-size="8.1" text-anchor="end">0.89</text>
<text x="397.40" y="310.70" font-size="8.1" text-anchor="end">0.90</text>
<text x="470.10" y="431.10" font-size="8.2" text-anchor="middle">epoch/n</text>
<text transform="translate(380.10,360.30) rotate(-90)" font-size="7.8" text-anchor="middle">SSIM</text>
<text x="424.30" y="317.60" font-size="8.1">B8C6</text>
<text x="463.70" y="317.60" font-size="8.1">B8C8</text>
<text x="503.20" y="317.60" font-size="8.1">B8C10</text>
<text class="cap" y="447.5" text-anchor="middle"><tspan x="259.1" y="447.5" font-size="10.6">(</tspan><tspan x="263.4" y="447.5" font-size="10.2">c</tspan><tspan x="268.0" y="447.5" font-size="10.6">)</tspan><tspan x="271.6" y="447.5" font-size="10.2"> </tspan><tspan x="275.8" y="447.5" font-size="9.4">B</tspan><tspan x="280.8" y="448.4" font-size="10.0">=</tspan><tspan x="287.5" y="447.5" font-size="10.2">8</tspan></text>
</svg></body></html>
